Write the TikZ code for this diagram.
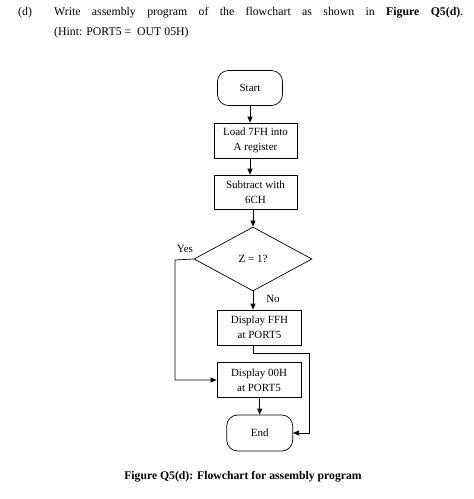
\documentclass[tikz,border=0pt]{standalone}
\usepackage{fontspec}
\setmainfont{Liberation Serif}
\usetikzlibrary{shapes.geometric,arrows.meta}
\begin{document}
\begin{tikzpicture}[x=1pt,y=-1pt,
  box/.style={draw,line width=0.7pt,minimum width=83pt,minimum height=35pt,align=center,inner sep=1pt,font=\fontsize{11}{15}\selectfont},
  term/.style={draw,line width=0.7pt,rounded corners=11pt,minimum width=65pt,minimum height=35pt,align=center,inner sep=1pt,font=\fontsize{11}{15}\selectfont},
  dec/.style={draw,line width=0.7pt,diamond,minimum width=118pt,minimum height=64pt,inner sep=0pt,font=\fontsize{11}{15}\selectfont},
  lbl/.style={inner sep=0pt,font=\fontsize{11}{12}\selectfont},
  arr/.style={line width=0.7pt,-{Triangle[length=6pt,width=5pt]}},
  ln/.style={line width=0.7pt}]
\useasboundingbox (0,0) rectangle (474,499);
% header
\node[anchor=base west,inner sep=0pt,font=\fontsize{11.8}{14}\selectfont] (hd) at (18,15.5) {(d)};
\node[anchor=base west,inner sep=0pt,font=\fontsize{11.8}{14}\selectfont] (h1) at (54,15.5)
  {\hbox to 409pt{Write\hfill assembly\hfill program\hfill of\hfill the\hfill flowchart\hfill as\hfill shown\hfill in\hfill \textbf{Figure}\hfill \textbf{Q5(d)}.}};
\node[anchor=base west,inner sep=0pt,font=\fontsize{11.8}{14}\selectfont] (h2) at (54,35.5) {(Hint: PORT5 =\ \ OUT 05H)};
% flowchart
\node[term] (start) at (250,88) {Start};
\node[box] (load) at (255.5,140.5) {Load 7FH into\\A register};
\node[box,minimum height=34pt] (sub) at (255.5,192) {Subtract with\\6CH};
\node[dec] (dia) at (253,259) {Z = 1?};
\node[box,minimum width=84pt] (ffh) at (259.5,327.5) {Display FFH\\at PORT5};
\node[box,minimum width=84pt] (d00) at (259,380) {Display 00H\\at PORT5};
\node[term,minimum width=66pt,minimum height=36pt] (end) at (259.7,433) {End};
\coordinate (yc) at (175,260);
\coordinate (rc) at (309,353);
\draw[arr] (start.south) -- (start.south |- load.north);
\draw[arr] (load.south -| start.south) -- (sub.north -| start.south);
\draw[arr] (sub.south -| dia.north) -- (dia.north);
\draw[arr] (dia.south) -- (dia.south |- ffh.north);
\draw[arr] (dia.west) -- (yc) |- (d00.west);
\draw[arr] (ffh.south -| dia.south) |- (rc) |- (end.east);
\draw[arr] (d00.south -| end.north) -- (end.north);
\node[lbl] (yes) at (185,249) {Yes};
\node[lbl] (no) at (273,299) {No};
% caption
\node[anchor=base,inner sep=0pt,font=\bfseries\fontsize{11.7}{14}\selectfont] (cap) at (243,479.5) {Figure Q5(d): Flowchart for assembly program};
\end{tikzpicture}
\end{document}
